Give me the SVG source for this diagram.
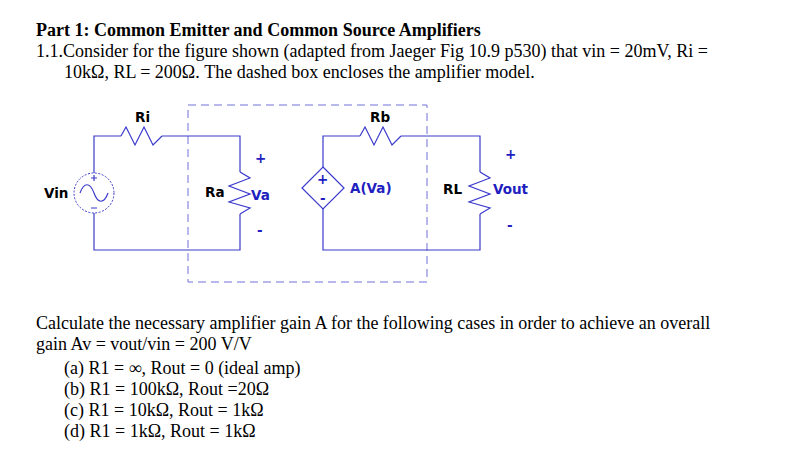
<svg xmlns="http://www.w3.org/2000/svg" width="803" height="458" viewBox="0 0 803 458">
<style>
.t{font-family:"Liberation Serif",serif;font-size:18px;fill:#000}
.w{fill:none;stroke:#3a3acc;stroke-width:1.2}
.l{font-family:"DejaVu Sans",sans-serif;font-size:13.5px;font-weight:bold;fill:#000}
.b{font-family:"DejaVu Sans",sans-serif;font-size:13.5px;font-weight:bold;fill:#2020c0}
</style>
<rect width="803" height="458" fill="#fff"/>
<text class="t" x="36" y="36" font-weight="bold" font-size="16.5">Part 1: Common Emitter and Common Source Amplifiers</text>
<text class="t" x="36" y="57">1.1.Consider for the figure shown (adapted from Jaeger Fig 10.9 p530) that vin = 20mV, Ri =</text>
<text class="t" x="64" y="78">10kΩ, RL = 200Ω. The dashed box encloses the amplifier model.</text>
<g id="box"><rect x="188" y="105" width="239" height="177" fill="none" stroke="#7070d8" stroke-width="1" stroke-dasharray="8,5"/></g>
<g id="wires">
<path class="w" d="M94,173 V136 H121 M162,136 H240 V172 M240,214 V250 H94 V213"/>
<path class="w" d="M323,167 V136 H360 M401,136 H480 V172 M480,214 V250 H323 V209"/>
</g>
<g id="Vin"><circle cx="94" cy="193" r="20" fill="none" stroke="#3a3acc" stroke-dasharray="2,1.5"/>
<path class="w" d="M80,193 C84,182 90,182 94,193 C98,204 104,204 108,193"/>
<path class="w" d="M91,178 h6 M94,175 v6 M91,208 h6"/>
<text class="l" x="44" y="198">Vin</text></g>
<g id="Ri"><path class="w" d="M121,136 l5,-9 l9,18 l9,-18 l9,18 l9,-9"/><text class="l" x="135" y="122">Ri</text></g>
<g id="Ra"><path class="w" d="M240,172 l10,6 l-21,8 l21,8 l-21,8 l21,6 l-10,6"/><text class="l" x="205" y="197">Ra</text>
<text class="b" x="251" y="200">Va</text><text class="b" x="255" y="163">+</text><text class="b" x="257" y="235">-</text></g>
<g id="A"><path class="w" d="M323,167 L344,188 L323,209 L302,188 Z"/>
<text class="b" x="317" y="184">+</text><text class="b" x="320" y="203">-</text>
<text class="b" x="350" y="193">A(Va)</text></g>
<g id="Rb"><path class="w" d="M360,136 l5,-9 l9,18 l9,-18 l9,18 l9,-9"/><text class="l" x="370" y="122">Rb</text></g>
<g id="RL"><path class="w" d="M480,172 l10,6 l-21,8 l21,8 l-21,8 l21,6 l-10,6"/><text class="l" x="443" y="194">RL</text>
<text class="b" x="493" y="194">Vout</text><text class="b" x="505" y="159">+</text><text class="b" x="507" y="230">-</text></g>
<text class="t" x="36" y="329">Calculate the necessary amplifier gain A for the following cases in order to achieve an overall</text>
<text class="t" x="36" y="350">gain Av = vout/vin = 200 V/V</text>
<text class="t" x="64" y="374">(a) R1 = ∞, Rout = 0 (ideal amp)</text>
<text class="t" x="64" y="395">(b) R1 = 100kΩ, Rout =20Ω</text>
<text class="t" x="64" y="416">(c) R1 = 10kΩ, Rout = 1kΩ</text>
<text class="t" x="64" y="437">(d) R1 = 1kΩ, Rout = 1kΩ</text>
</svg>
